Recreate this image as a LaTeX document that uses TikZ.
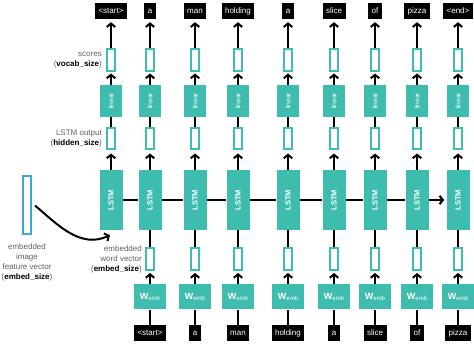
\documentclass[tikz,border=0pt]{standalone}
\usepackage{fontspec}
\setmainfont{Liberation Sans}
\usetikzlibrary{arrows.meta, positioning, calc}
\definecolor{TL}{RGB}{62,189,175}
\definecolor{BL}{RGB}{58,168,208}
\definecolor{GT}{RGB}{95,95,95}
\newcommand\sizelbl[1]{(\textcolor{black}{\bfseries #1})}

\begin{document}
\begin{tikzpicture}[x=1pt, y=-1pt,
  word/.style={fill=black, text=white, font=\fontsize{8}{9}\selectfont,
               minimum height=16pt, minimum width=12pt, inner xsep=3.5pt, inner ysep=0pt},
  vec/.style={draw=TL, line width=2pt, fill=white, minimum width=8pt,
              minimum height=21pt, inner sep=0pt},
  blk/.style={fill=TL, text=white, inner sep=0pt},
  lstm/.style={blk, minimum width=23pt, minimum height=60pt, font=\fontsize{7.5}{8}\selectfont\bfseries},
  lin/.style={blk, minimum width=22pt, minimum height=32pt, font=\fontsize{6.5}{7}\selectfont},
  wemb/.style={blk, minimum width=32pt, minimum height=25pt},
  arr/.style={-{Straight Barb[length=3.5pt,width=8.5pt]}, line width=2pt},
  ln/.style={line width=2pt},
  lbl/.style={text=GT, align=right, font=\fontsize{8}{10}\selectfont, inner sep=0pt}
]
\useasboundingbox (0,0) rectangle (474,347);

% upper half: one column per time step
\foreach \i/\x/\top in {1/111/<start>, 2/150/a, 3/195/man, 4/238/holding, 5/288/a,
                        6/334/slice, 7/375/of, 8/417/pizza, 9/458/<end>}{
  \node[word] (tw\i) at (\x,11) {\top};
  \node[vec, minimum height=22pt] (sc\i) at (\x,60) {};
  \node[lin] (ln\i) at (\x,101) {\rotatebox{90}{linear}};
  \node[vec] (ho\i) at (\x,139) {};
  \node[lstm] (ls\i) at (\x,200) {\rotatebox{90}{LSTM}};
  \draw[arr, shorten >=3pt] (sc\i) -- (tw\i);
  \draw[arr, shorten >=1.5pt] (ln\i) -- (sc\i);
  \draw[ln] (ho\i) -- (ln\i);
  \draw[arr, shorten >=3pt] (ls\i) -- (ho\i);
}

% lower half: word inputs
\foreach \i/\x/\bot in {2/150/<start>, 3/195/a, 4/238/man, 5/288/holding,
                        6/334/a, 7/375/slice, 8/417/of, 9/458/pizza}{
  \node[vec, minimum height=22pt] (em\i) at (\x,259) {};
  \node[wemb] (we\i) at (\x,297) {{\fontsize{9}{9}\selectfont\bfseries W}\raisebox{-1pt}{\fontsize{6}{6}\selectfont emb}};
  \node[word] (bw\i) at (\x,333) {\bot};
  \draw[ln] (em\i) -- (ls\i);
  \draw[arr, shorten >=2pt] (we\i) -- (em\i);
  \draw[ln] (bw\i) -- (we\i);
}

% recurrent state
\foreach \i [evaluate=\i as \j using int(\i+1)] in {1,...,7}
  \draw[ln] (ls\i) -- (ls\j);
\draw[arr, shorten >=2pt] (ls8) -- (ls9);

% image feature
\node[vec, draw=BL, minimum height=58pt] (img) at (27,205) {};
\node[lbl, align=center, below=9pt of img] (imglbl)
  {embedded\\image\\feature vector\\\sizelbl{embed\_size}};
\coordinate (imgin) at ($(ls1.south)+(-1,5)$);
\draw[arr, shorten <=4pt] ([yshift=2pt]img.east) to[out=-40, in=205] (imgin);

% side labels
\node[lbl, left=4pt of sc1] (sclbl) {scores\\\sizelbl{vocab\_size}};
\node[lbl, left=4pt of ho1] (holbl) {LSTM output\\\sizelbl{hidden\_size}};
\node[lbl, left=3pt of em2] (emlbl) {embedded\\word vector\\\sizelbl{embed\_size}};
\end{tikzpicture}
\end{document}
